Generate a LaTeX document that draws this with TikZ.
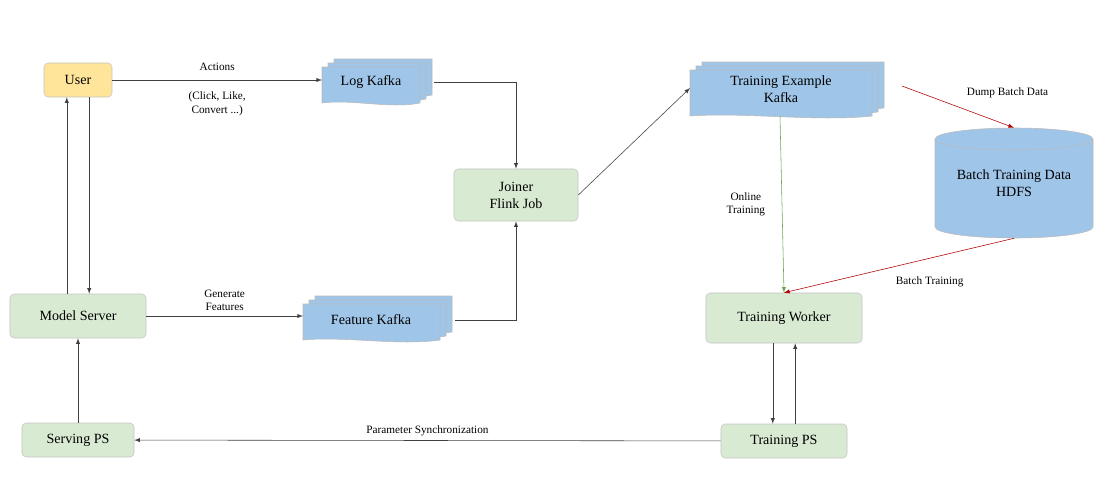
\documentclass[tikz,border=0pt]{standalone}
\usepackage{fontspec}
\setmainfont{Liberation Serif}
\usetikzlibrary{positioning, shapes.geometric}
\definecolor{boxgreen}{HTML}{D9EAD3}
\definecolor{boxblue}{HTML}{9FC5E8}
\definecolor{boxyellow}{HTML}{FFE599}
\definecolor{edgegray}{HTML}{9E9E9E}
\definecolor{flowgreen}{HTML}{6AA84F}
\definecolor{flowred}{HTML}{B00000}
\tikzset{
    block/.style={
        draw = edgegray!60, fill = boxgreen, rounded corners = 3pt,
        align = center, font = \normalsize
    },
    doc/.style = {draw = edgegray!70, fill = boxblue},
    line/.style = {-latex, draw = black!75},
    lbl/.style = {font = \footnotesize, align = center}
}
% one stack of three wavy pages: x, y (top-left of the front page), width, height
\newcommand{\docstack}[4]{
    \foreach \k in {2,1,0} {
        \path[doc] ({#1+6*\k},{#2-4*\k}) -- ++(#3,0) -- ++(0,#4)
            .. controls ++({-0.3*#3},6) and ++({0.3*#3},-4) .. ++(-#3,0) -- cycle;
    }
}
\begin{document}
\begin{tikzpicture}[x=0.025cm, y=-0.025cm]

    % Frame
    \useasboundingbox (0,0) rectangle (1106,481);

    % Kafka stacks
    \docstack{322}{67}{98}{36}
    \docstack{303}{304}{137}{36}
    \docstack{690}{70}{182}{46}

    % HDFS cylinder
    \path[doc] (935,139) -- (935,227) arc[start angle=180, end angle=0, x radius=79, y radius=11]
        -- (1093,139) arc[start angle=0, end angle=-180, x radius=79, y radius=11] -- cycle;
    \draw[edgegray!70] (935,139) arc[start angle=180, end angle=0, x radius=79, y radius=11];

    % Nodes
    \node[block, fill = boxyellow, minimum width = 1.7cm, minimum height = 0.85cm] (user) at (78,80) {User};
    \node[font = \normalsize] (log) at (371,82) {Log Kafka};
    \node[font = \normalsize] (feature) at (371,320) {Feature Kafka};
    \node[font = \normalsize, align = center] (example) at (781,89) {Training Example\\Kafka};
    \node[block, minimum width = 3.1cm, minimum height = 1.3cm] (joiner) at (516,195) {Joiner\\Flink Job};
    \node[block, minimum width = 3.4cm, minimum height = 1.1cm] (server) at (78,316) {Model Server};
    \node[block, minimum width = 2.8cm, minimum height = 0.85cm] (serving) at (78,440) {Serving PS};
    \node[block, minimum width = 3.9cm, minimum height = 1.25cm] (worker) at (784,318) {Training Worker};
    \node[block, minimum width = 3.15cm, minimum height = 0.85cm] (trainps) at (784,441) {Training PS};
    \node[minimum width = 3.95cm, minimum height = 2.75cm, inner sep = 0pt, font = \normalsize, align = center] (hdfs) at (1014,183)
        {Batch Training Data\\HDFS};

    % Anchors for the stacks
    \coordinate (logR) at (434,82);
    \coordinate (featR) at (455,320);
    \coordinate (featL) at (303,316);
    \coordinate (logL) at (322,80);
    \coordinate (exL) at (690,88);
    \coordinate (exR) at (902,86);
    \coordinate (exB) at (780,116);

    % Connectors
    \draw[line] (user) -- node[lbl, above = 3pt] {Actions} node[lbl, below = 5pt] {(Click, Like,\\Convert ...)} (logL);
    \draw[line] (logR) -| (joiner);
    \draw[line] (featR) -| (joiner);
    \draw[line] (server) -- node[lbl, above] {Generate\\Features} (featL);
    \draw[line] ([xshift=-0.28cm]server.north) -- ([xshift=-0.28cm]user.south);
    \draw[line] ([xshift=0.28cm]user.south) -- ([xshift=0.28cm]server.north);
    \draw[line] (serving) -- (server);
    \draw[line] (trainps) -- node[lbl, above] {Parameter Synchronization} (serving);
    \draw[line] ([xshift=-0.28cm]worker.south) -- ([xshift=-0.28cm]trainps.north);
    \draw[line] ([xshift=0.28cm]trainps.north) -- ([xshift=0.28cm]worker.south);
    \draw[line] (joiner.east) -- (exL);
    \draw[line, draw = flowgreen] (exB) -- node[lbl, left = 0.3cm] {Online\\Training} (worker.north);
    \draw[line, draw = flowred] (exR) -- node[lbl, above right = 0.1cm and 0.1cm] {Dump Batch Data} (hdfs.north);
    \draw[line, draw = flowred] (hdfs.south) -- node[lbl, below right = 0.15cm and -0.2cm] {Batch Training} (worker.north);

\end{tikzpicture}
\end{document}
